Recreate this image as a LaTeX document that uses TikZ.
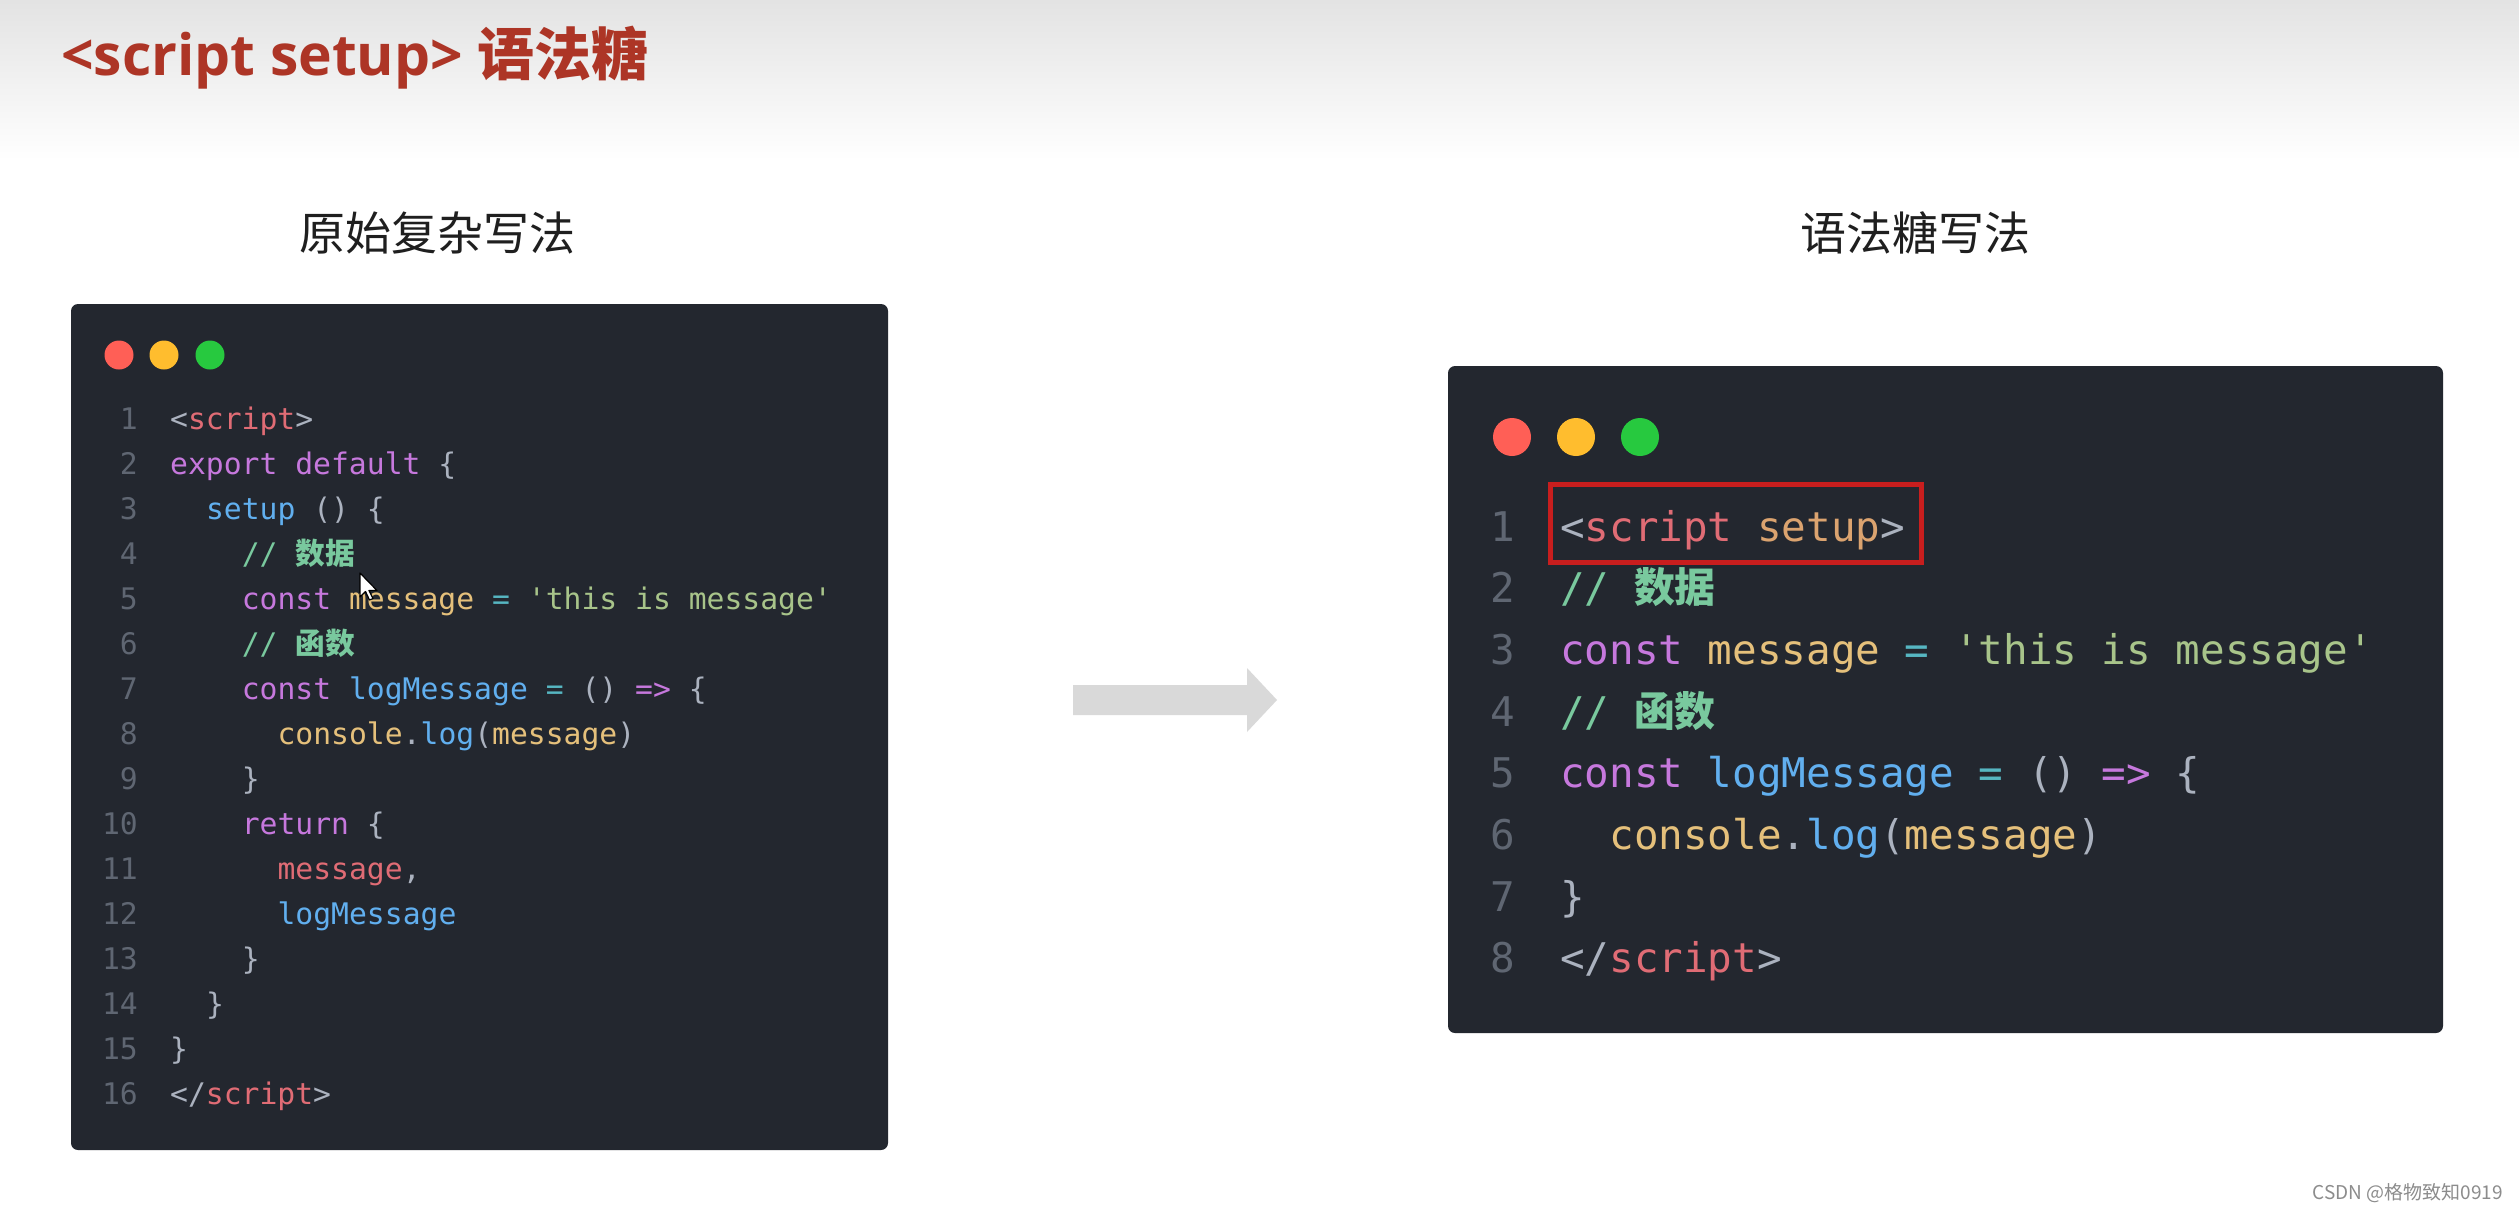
\documentclass[tikz,border=0pt]{standalone}
\usepackage{fontspec}
\setmainfont{Noto Sans}
\setmonofont{DejaVu Sans Mono}
\newfontfamily\cjk{Noto Sans CJK SC}
\newfontfamily\latinbold{Open Sans}
\definecolor{boxbg}{HTML}{23272F}
\definecolor{clno}{HTML}{5F6672}
\definecolor{cpun}{HTML}{ABB2BF}
\definecolor{ctag}{HTML}{E06C75}
\definecolor{ckey}{HTML}{C678DD}
\definecolor{cfun}{HTML}{61AFEF}
\definecolor{ccom}{HTML}{79C99E}
\definecolor{cvar}{HTML}{E5C07B}
\definecolor{cop}{HTML}{56B6C2}
\definecolor{cstr}{HTML}{A8C48A}
\definecolor{cattr}{HTML}{DBA36F}
\definecolor{ctitle}{HTML}{AD3526}
\definecolor{dotr}{HTML}{FF5F56}
\definecolor{doty}{HTML}{FFBD2E}
\definecolor{dotg}{HTML}{27C93F}
\definecolor{arrowgray}{HTML}{D9D9D9}
\definecolor{redframe}{HTML}{C81E1E}
\newcommand\cP[1]{\textcolor{cpun}{#1}}
\newcommand\cT[1]{\textcolor{ctag}{#1}}
\newcommand\cK[1]{\textcolor{ckey}{#1}}
\newcommand\cF[1]{\textcolor{cfun}{#1}}
\newcommand\cC[1]{\textcolor{ccom}{#1}}
\newcommand\cV[1]{\textcolor{cvar}{#1}}
\newcommand\cO[1]{\textcolor{cop}{#1}}
\newcommand\cS[1]{\textcolor{cstr}{#1}}
\newcommand\cA[1]{\textcolor{cattr}{#1}}
\newcommand\zh[1]{{\cjk\bfseries #1}}
\begin{document}
\begin{tikzpicture}[x=1pt,y=-1pt,
  codeL/.style={anchor=base west,inner sep=0pt,font=\ttfamily\fontsize{29.7pt}{36pt}\selectfont},
  codeR/.style={anchor=base west,inner sep=0pt,font=\ttfamily\fontsize{40.9pt}{48pt}\selectfont},
  lnL/.style={anchor=base east,inner sep=0pt,text=clno,font=\ttfamily\fontsize{29.7pt}{36pt}\selectfont},
  lnR/.style={anchor=base east,inner sep=0pt,text=clno,font=\ttfamily\fontsize{40.9pt}{48pt}\selectfont},
  subt/.style={inner sep=0pt,text=black!88,font=\cjk\fontsize{46pt}{52pt}\selectfont},
  codebox/.style={fill=boxbg,rounded corners=7pt},
  redbox/.style={draw=redframe,line width=5pt}
]
\useasboundingbox (0,0) rectangle (2519,1211);
\fill[white] (0,0) rectangle (2519,1211);
\shade[top color=black!11,bottom color=white] (0,0) rectangle (2519,160);

% title
\node[anchor=base west,inner sep=0pt,text=ctitle] (title) at (61,75)
  {\fontsize{57pt}{64pt}\selectfont\latinbold\bfseries <script setup> \cjk\bfseries 语法糖};

% subtitles
\node[subt] (subL) at (437,233) {原始复杂写法};
\node[subt] (subR) at (1915,233) {语法糖写法};

% left box
\fill[codebox] (71,304) rectangle (888,1150);
\fill[dotr] (119,355) circle (14.5);
\fill[doty] (164,355) circle (14.5);
\fill[dotg] (210,355) circle (14.5);
\foreach \i in {1,...,16} \node[lnL] (nL\i) at (138,{429+45*(\i-1)}) {\i};
\node[codeL] (L1) at (170,429) {\cP{<}\cT{script}\cP{>}};
\node[codeL] (L2) at (170,474) {\cK{export default} \cP{\{}};
\node[codeL] (L3) at (205.8,519) {\cF{setup} \cP{() \{}};
\node[codeL] (L4) at (241.6,564) {\cC{// \zh{数据}}};
\node[codeL] (L5) at (241.6,609) {\cK{const} \cV{message} \cO{=} \cS{'this is message'}};
\node[codeL] (L6) at (241.6,654) {\cC{// \zh{函数}}};
\node[codeL] (L7) at (241.6,699) {\cK{const} \cF{logMessage} \cO{=} \cP{()} \cK{=>} \cP{\{}};
\node[codeL] (L8) at (277.4,744) {\cV{console}\cP{.}\cF{log}\cP{(}\cV{message}\cP{)}};
\node[codeL] (L9) at (241.6,789) {\cP{\}}};
\node[codeL] (L10) at (241.6,834) {\cK{return} \cP{\{}};
\node[codeL] (L11) at (277.4,879) {\cT{message}\cP{,}};
\node[codeL] (L12) at (277.4,924) {\cF{logMessage}};
\node[codeL] (L13) at (241.6,969) {\cP{\}}};
\node[codeL] (L14) at (205.8,1014) {\cP{\}}};
\node[codeL] (L15) at (170,1059) {\cP{\}}};
\node[codeL] (L16) at (170,1104) {\cP{</}\cT{script}\cP{>}};

% mouse cursor
\filldraw[fill=white,draw=black,line width=1.2pt,line join=round]
  (360,573) -- (360,597) -- (365.5,591.5) -- (369.5,600) -- (373,598.5) -- (369,590.5) -- (377,590.5) -- cycle;

% arrow
\fill[arrowgray] (1073,685) -- (1247,685) -- (1247,668) -- (1277,700) -- (1247,732) -- (1247,715) -- (1073,715) -- cycle;

% right box
\fill[codebox] (1448,366) rectangle (2443,1033);
\fill[dotr] (1512,437) circle (19);
\fill[doty] (1576,437) circle (19);
\fill[dotg] (1640,437) circle (19);
\foreach \i in {1,...,8} \node[lnR] (nR\i) at (1515,{541+61.7*(\i-1)}) {\i};
\node[codeR] (R1) at (1560,541) {\cP{<}\cT{script} \cA{setup}\cP{>}};
\node[codeR] (R2) at (1560,602.7) {\cC{// \zh{数据}}};
\node[codeR] (R3) at (1560,664.4) {\cK{const} \cV{message} \cO{=} \cS{'this is message'}};
\node[codeR] (R4) at (1560,726.1) {\cC{// \zh{函数}}};
\node[codeR] (R5) at (1560,787.8) {\cK{const} \cF{logMessage} \cO{=} \cP{()} \cK{=>} \cP{\{}};
\node[codeR] (R6) at (1609.2,849.5) {\cV{console}\cP{.}\cF{log}\cP{(}\cV{message}\cP{)}};
\node[codeR] (R7) at (1560,911.2) {\cP{\}}};
\node[codeR] (R8) at (1560,972.9) {\cP{</}\cT{script}\cP{>}};
\draw[redbox] (1550,484) rectangle (1921,562);

% watermark
\node[anchor=base east,inner sep=0pt,text=black!45,font=\cjk\fontsize{19pt}{22pt}\selectfont] (wm) at (2503,1199) {CSDN @格物致知0919};
\end{tikzpicture}
\end{document}
